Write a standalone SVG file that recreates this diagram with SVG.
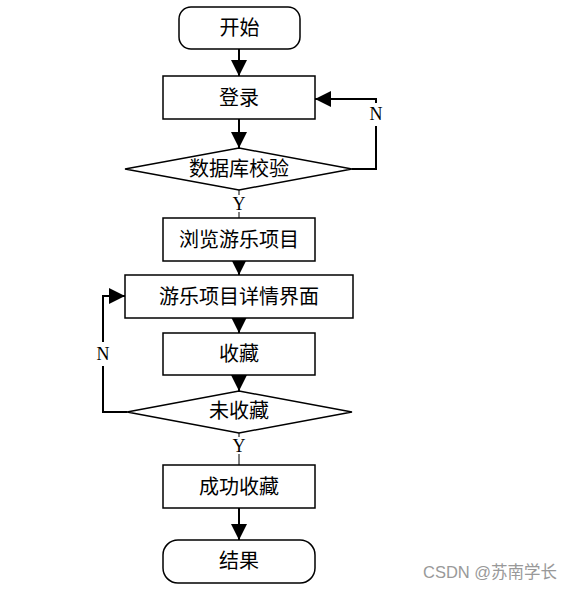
<svg xmlns="http://www.w3.org/2000/svg" width="574" height="590" viewBox="0 0 574 590">
<defs>
<style>
.box{fill:#fff;stroke:#000;stroke-width:1.5}
.t{font-family:"Liberation Serif","Noto Sans CJK SC",serif;font-size:20px;fill:#000;text-anchor:middle;dominant-baseline:central}
.l{font-family:"Liberation Serif",serif;font-size:18px;fill:#000;text-anchor:middle;dominant-baseline:central}
.c{fill:none;stroke:#000;stroke-width:2}
.thin{fill:none;stroke:#000;stroke-width:1}
.wm{font-family:"Liberation Sans","Noto Sans CJK SC",sans-serif;font-size:16.5px;fill:#999}
</style>
<marker id="ah" markerUnits="userSpaceOnUse" markerWidth="16" markerHeight="16" refX="16" refY="8" orient="auto" viewBox="0 0 16 16">
<path d="M0,0 L16,8 L0,16 Z" fill="#000"/>
</marker>
</defs>
<g id="connectors">
<line class="c" x1="239" y1="49" x2="239" y2="76" marker-end="url(#ah)"/>
<line class="c" x1="239" y1="119" x2="239" y2="148" marker-end="url(#ah)"/>
<polyline class="c" points="352,169 376,169 376,126"/>
<polyline class="c" points="376,103 376,99 315,99" marker-end="url(#ah)"/>
<line class="thin" x1="239" y1="190" x2="239" y2="218"/>
<line class="c" x1="239" y1="261" x2="239" y2="275" marker-end="url(#ah)"/>
<line class="c" x1="239" y1="318" x2="239" y2="333" marker-end="url(#ah)"/>
<line class="c" x1="239" y1="375" x2="239" y2="391" marker-end="url(#ah)"/>
<polyline class="c" points="127,412 103,412 103,366"/>
<polyline class="c" points="103,342 103,296 125,296" marker-end="url(#ah)"/>
<line class="thin" x1="239" y1="433" x2="239" y2="465"/>
<line class="c" x1="239" y1="508" x2="239" y2="540" marker-end="url(#ah)"/>
<rect x="232" y="195" width="14" height="17" fill="#fff"/>
<text class="l" x="239" y="204">Y</text>
<rect x="232" y="437" width="14" height="17" fill="#fff"/>
<text class="l" x="239" y="446">Y</text>
<text class="l" x="376" y="114">N</text>
<text class="l" x="103" y="354">N</text>
</g>
<g id="start"><rect class="box" x="179" y="7" width="121" height="42" rx="12"/><text class="t" x="239.5" y="28">开始</text></g>
<g id="login"><rect class="box" x="163" y="76" width="152" height="43"/><text class="t" x="239" y="98">登录</text></g>
<g id="dbcheck"><polygon class="box" points="239,148 352,169 239,190 125,169"/><text class="t" x="239" y="169">数据库校验</text></g>
<g id="browse"><rect class="box" x="163" y="218" width="152" height="43"/><text class="t" x="239" y="240">浏览游乐项目</text></g>
<g id="detail"><rect class="box" x="125" y="275" width="228" height="43"/><text class="t" x="239" y="297">游乐项目详情界面</text></g>
<g id="fav"><rect class="box" x="163" y="333" width="152" height="42"/><text class="t" x="239" y="354">收藏</text></g>
<g id="notfav"><polygon class="box" points="239,391 352,412 239,433 127,412"/><text class="t" x="239" y="411">未收藏</text></g>
<g id="success"><rect class="box" x="163" y="465" width="152" height="43"/><text class="t" x="239" y="487">成功收藏</text></g>
<g id="end"><rect class="box" x="163" y="540" width="152" height="43" rx="15"/><text class="t" x="239" y="561">结果</text></g>
<text class="wm" x="423" y="578">CSDN @苏南学长</text>
</svg>
